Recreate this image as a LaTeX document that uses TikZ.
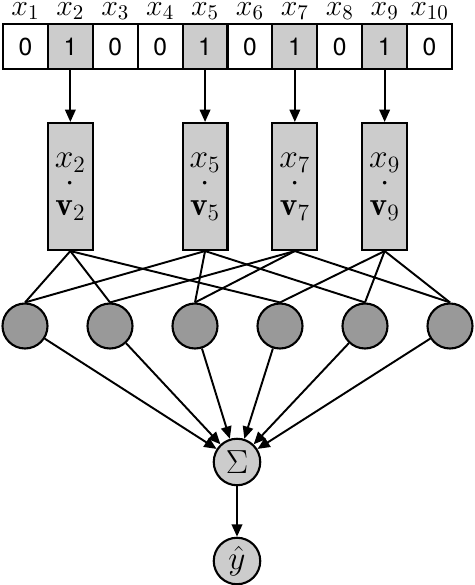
\documentclass[tikz,border=0pt]{standalone}
\usepackage{fix-cm}
\usepackage{fontspec}
\newfontfamily\helv{TeX Gyre Heros}
\usetikzlibrary{arrows.meta}
\definecolor{cellgray}{RGB}{204,204,204}
\definecolor{unitgray}{RGB}{153,153,153}
\tikzset{
  cell/.style={draw,line width=1.2pt,minimum width=0.898cm,minimum height=0.9cm,inner sep=0pt,font=\helv\fontsize{14}{14}\selectfont},
  embbox/.style={draw,line width=1.2pt,fill=cellgray,minimum width=0.9cm,minimum height=2.54cm,inner sep=0pt,align=center,font=\fontsize{19}{13.6}\selectfont},
  unit/.style={circle,draw,line width=1.2pt,fill=unitgray,minimum size=0.9cm,inner sep=0pt},
  outunit/.style={circle,draw,line width=1.2pt,fill=cellgray,minimum size=0.93cm,inner sep=0pt,font=\fontsize{19}{19}\selectfont},
  arr/.style={-{Triangle[length=7pt,width=6pt]},line width=1.1pt}
}
\begin{document}
\begin{tikzpicture}[x=0.02cm,y=-0.02cm]
\useasboundingbox (0,0) rectangle (474,585);

% input vector
\foreach \i/\v/\c in {1/0/white,2/1/cellgray,3/0/white,4/0/white,5/1/cellgray,6/0/white,7/1/cellgray,8/0/white,9/1/cellgray,10/0/white}{
\node[cell,fill=\c] (c\i) at ({3+44.9*(\i-0.5)},46.5) {\v};
\node[anchor=base,inner sep=0pt,font=\fontsize{17}{17}\selectfont] (l\i) at ({3+44.9*(\i-0.5)},15) {$x_{\i}$};
}

% embeddings
\foreach \j in {2,5,7,9}{
\node[embbox] (b\j) at ({3+44.9*(\j-0.5)},186.5) {$x_{\j}$\\$\cdot$\\$\mathbf{v}_{\j}$};
\draw[arr] (c\j) -- (b\j);
}

% pairwise units
\foreach \k in {1,...,6}
\node[unit] (h\k) at ({25+85*(\k-1)},326) {};
\foreach \a/\b/\k in {2/5/1,2/7/2,5/7/3,2/9/4,5/9/5,7/9/6}{
\draw[line width=1.1pt] (b\a.south) -- (h\k.north);
\draw[line width=1.1pt] (b\b.south) -- (h\k.north);
}

% output
\node[outunit] (sum) at (237,462) {$\Sigma$};
\node[outunit] (yhat) at (237,561) {$\hat{y}$};
\foreach \k in {1,...,6}
\draw[arr] (h\k) -- (sum);
\draw[arr] (sum) -- (yhat);

\end{tikzpicture}
\end{document}
